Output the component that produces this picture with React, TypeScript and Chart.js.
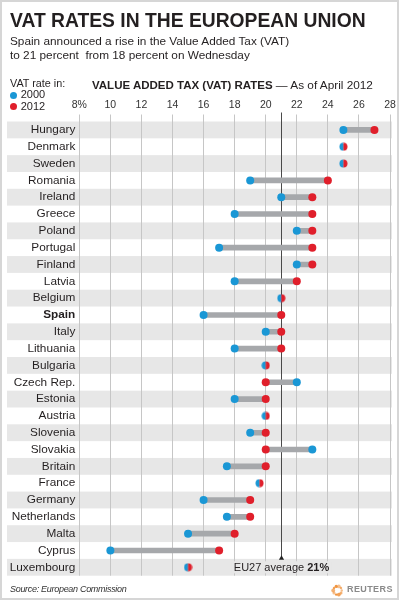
import React, { useEffect, useRef } from 'react';
import { Chart, registerables } from 'chart.js';

Chart.register(...registerables);

const countries = [
  'Hungary', 'Denmark', 'Sweden', 'Romania', 'Ireland', 'Greece', 'Poland', 'Portugal', 'Finland',
  'Latvia', 'Belgium', 'Spain', 'Italy', 'Lithuania', 'Bulgaria', 'Czech Rep.', 'Estonia', 'Austria',
  'Slovenia', 'Slovakia', 'Britain', 'France', 'Germany', 'Netherlands', 'Malta', 'Cyprus', 'Luxembourg',
];
const vat2000 = [25, 25, 25, 19, 21, 18, 22, 17, 22, 18, 21, 16, 20, 18, 20, 22, 18, 20, 19, 23, 17.5, 19.6, 16, 17.5, 15, 10, 15];
const vat2012 = [27, 25, 25, 24, 23, 23, 23, 23, 23, 22, 21, 21, 21, 21, 20, 20, 20, 20, 20, 20, 20, 19.6, 19, 19, 18, 17, 15];
const axisMin = 8;
const axisMax = 28;
const axisStep = 2;
const euAverage = 21;
const highlightedCountry = 'Spain';

const FONT = "'Liberation Sans', Arial, Helvetica, sans-serif";
const BLUE = '#1a97d5';
const RED = '#e01f2b';
const BAR = '#a6a8ab';
const BAND = '#e7e7e7';
const GRID = '#c6c6c6';
const TEXT = '#231f20';

function makeHalfDot(r: number) {
  const s = Math.ceil(r * 2) + 1;
  const c = document.createElement('canvas');
  c.width = s;
  c.height = s;
  const g = c.getContext('2d')!;
  const m = s / 2;
  g.fillStyle = BLUE;
  g.beginPath();
  g.moveTo(m, m);
  g.arc(m, m, r, Math.PI / 2, Math.PI * 1.5);
  g.closePath();
  g.fill();
  g.fillStyle = RED;
  g.beginPath();
  g.moveTo(m, m);
  g.arc(m, m, r, -Math.PI / 2, Math.PI / 2);
  g.closePath();
  g.fill();
  return c;
}

const bandsPlugin = {
  id: 'bands',
  beforeDraw(chart: any) {
    const { ctx, chartArea, scales } = chart;
    const y = scales.y;
    const h = (chartArea.bottom - chartArea.top) / countries.length;
    ctx.save();
    ctx.fillStyle = BAND;
    for (let i = 0; i < countries.length; i += 2) {
      const cy = y.getPixelForValue(i);
      ctx.fillRect(7, cy - h / 2, chartArea.right + 2 - 7, h);
    }
    ctx.restore();
  },
};

const avgPlugin = {
  id: 'avg',
  beforeDatasetsDraw(chart: any) {
    const { ctx, chartArea, scales } = chart;
    const x = Math.round(scales.x.getPixelForValue(euAverage)) + 0.5;
    const lastY = scales.y.getPixelForValue(countries.length - 1);
    ctx.save();
    ctx.strokeStyle = '#4a4a4a';
    ctx.lineWidth = 1;
    ctx.beginPath();
    ctx.moveTo(x, chartArea.top - 9);
    ctx.lineTo(x, lastY - 11);
    ctx.stroke();
    ctx.restore();
  },
  afterDatasetsDraw(chart: any) {
    const { ctx, scales } = chart;
    const x = Math.round(scales.x.getPixelForValue(euAverage)) + 0.5;
    const lastY = scales.y.getPixelForValue(countries.length - 1);
    ctx.save();
    ctx.fillStyle = '#222';
    ctx.beginPath();
    ctx.moveTo(x, lastY - 12);
    ctx.lineTo(x - 2.6, lastY - 7.5);
    ctx.lineTo(x + 2.6, lastY - 7.5);
    ctx.closePath();
    ctx.fill();

    const t1 = 'EU27 average ';
    const t2 = `${euAverage}%`;
    ctx.font = `11px ${FONT}`;
    const w1 = ctx.measureText(t1).width;
    ctx.font = `bold 11px ${FONT}`;
    const w2 = ctx.measureText(t2).width;
    const left = x - (w1 + w2) / 2;
    ctx.fillStyle = BAND;
    ctx.fillRect(left - 2, lastY - 6, w1 + w2 + 4, 12);
    ctx.textBaseline = 'middle';
    ctx.fillStyle = TEXT;
    ctx.font = `11px ${FONT}`;
    ctx.fillText(t1, left, lastY + 0.5);
    ctx.font = `bold 11px ${FONT}`;
    ctx.fillText(t2, left + w1, lastY + 0.5);
    ctx.restore();
  },
};

export default function App() {
  const ref = useRef<HTMLCanvasElement>(null);

  useEffect(() => {
    const canvas = ref.current!;
    const halfDot = makeHalfDot(4);
    const same = (i: number) => vat2000[i] === vat2012[i];

    const chart = new Chart(canvas, {
      type: 'bar',
      data: {
        labels: countries,
        datasets: [
          {
            type: 'bar',
            label: 'range',
            indexAxis: 'y',
            data: countries.map((_, i) => [Math.min(vat2000[i], vat2012[i]), Math.max(vat2000[i], vat2012[i])]),
            backgroundColor: BAR,
            borderWidth: 0,
            barThickness: 5,
            borderSkipped: false,
            order: 3,
          } as any,
          {
            type: 'line',
            label: '2000',
            indexAxis: 'y',
            data: vat2000,
            showLine: false,
            pointRadius: (c: any) => (same(c.dataIndex) ? 0 : 4),
            pointBackgroundColor: BLUE,
            pointBorderWidth: 0,
            pointBorderColor: BLUE,
            order: 2,
          } as any,
          {
            type: 'line',
            label: '2012',
            indexAxis: 'y',
            data: vat2012,
            showLine: false,
            pointRadius: 4,
            pointStyle: (c: any) => (same(c.dataIndex) ? halfDot : 'circle'),
            pointBackgroundColor: RED,
            pointBorderWidth: 0,
            pointBorderColor: RED,
            order: 1,
          } as any,
        ],
      },
      options: {
        indexAxis: 'y',
        responsive: false,
        animation: false,
        devicePixelRatio: 1,
        layout: { padding: { top: 0, left: 0, right: 9, bottom: 24.3 } },
        plugins: {
          legend: { display: false },
          tooltip: { enabled: false },
          title: { display: false },
        },
        scales: {
          x: {
            type: 'linear',
            position: 'top',
            min: axisMin,
            max: axisMax,
            afterFit: (s: any) => {
              s.height = 121.5;
            },
            ticks: {
              stepSize: axisStep,
              autoSkip: false,
              maxRotation: 0,
              padding: 3,
              color: '#333',
              font: { family: FONT, size: 10.5 },
              callback: (v: any) => (Number(v) === axisMin ? `${v}%` : `${v}`),
            },
            grid: {
              color: GRID,
              lineWidth: 1,
              drawTicks: true,
              tickLength: 7,
            },
            border: { display: false },
          },
          y: {
            type: 'category',
            offset: true,
            afterFit: (s: any) => {
              s.width = 79.3;
            },
            ticks: {
              padding: 4,
              autoSkip: false,
              color: TEXT,
              font: (c: any) => ({
                family: FONT,
                size: 11.8,
                weight: countries[c.index] === highlightedCountry ? 'bold' : 'normal',
              }),
            },
            grid: { display: false, drawTicks: false },
            border: { display: false },
          },
        },
      } as any,
      plugins: [bandsPlugin, avgPlugin],
    });
    return () => chart.destroy();
  }, []);

  const abs = (o: any) => ({ position: 'absolute', whiteSpace: 'pre', lineHeight: 1, ...o } as React.CSSProperties);

  return (
    <div
      style={{
        position: 'fixed',
        left: 0,
        top: 0,
        width: 399,
        height: 600,
        background: '#fff',
        overflow: 'hidden',
        fontFamily: FONT,
        color: TEXT,
      }}
    >
      <canvas ref={ref} width={399} height={600} style={{ position: 'absolute', left: 0, top: 0, width: 399, height: 600 }} />

      <div style={abs({ left: 10, top: 11, fontSize: 19.3, fontWeight: 'bold' })}>VAT RATES IN THE EUROPEAN UNION</div>
      <div style={abs({ left: 10, top: 35.3, fontSize: 11.8, lineHeight: '13.3px' })}>
        {'Spain announced a rise in the Value Added Tax (VAT)\nto 21 percent  from 18 percent on Wednesday'}
      </div>

      <div style={abs({ left: 10, top: 77.6, fontSize: 10.8 })}>VAT rate in:</div>
      <div style={abs({ left: 9.8, top: 91.5, width: 7, height: 7, borderRadius: '50%', background: BLUE })} />
      <div style={abs({ left: 20.7, top: 89.4, fontSize: 11 })}>2000</div>
      <div style={abs({ left: 9.8, top: 103.2, width: 7, height: 7, borderRadius: '50%', background: RED })} />
      <div style={abs({ left: 20.7, top: 101, fontSize: 11 })}>2012</div>

      <div style={abs({ left: 92, top: 80.3, fontSize: 11.5, fontWeight: 'bold' })}>
        VALUE ADDED TAX (VAT) RATES
        <span style={{ fontWeight: 'normal', fontSize: 11.8 }}>{' \u2014 As of April 2012'}</span>
      </div>

      <div style={abs({ left: 10, top: 584.7, fontSize: 9, fontStyle: 'italic', letterSpacing: -0.3, color: '#333' })}>
        Source: European Commission
      </div>

      <svg style={{ position: 'absolute', left: 331, top: 584 }} width={13} height={13} viewBox="0 0 13 13">
        {Array.from({ length: 10 }).map((_, i) => {
          const a = (i / 10) * Math.PI * 2;
          return (
            <circle
              key={i}
              cx={6.5 + Math.cos(a) * 4.3}
              cy={6.5 + Math.sin(a) * 4.3}
              r={1.2 + (i % 3) * 0.35}
              fill="#ee8a2e"
              opacity={0.55 + (i % 4) * 0.12}
            />
          );
        })}
      </svg>
      <div style={abs({ left: 347, top: 585, fontSize: 9, fontWeight: 'bold', letterSpacing: 0.4, color: '#8a8a8a' })}>REUTERS</div>

      <div style={{ position: 'absolute', left: 0, top: 0, right: 0, bottom: 0, border: '2px solid #d6d6d6', pointerEvents: 'none' }} />
    </div>
  );
}
